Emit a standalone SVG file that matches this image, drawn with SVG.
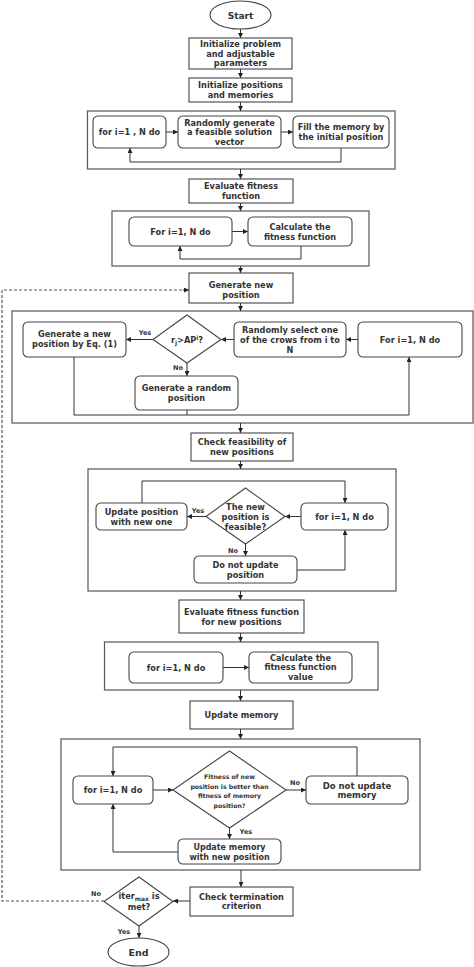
<svg xmlns="http://www.w3.org/2000/svg" width="474" height="967" viewBox="0 0 474 967">
<defs>
<marker id="ah" viewBox="0 0 10 10" refX="10" refY="5" markerWidth="5" markerHeight="5" orient="auto" markerUnits="userSpaceOnUse">
<path d="M0,0 L10,5 L0,10 z" fill="#222"/>
</marker>
<style>
.b{fill:#fff;stroke:#444;stroke-width:1.1}
.c{fill:none;stroke:#555;stroke-width:1.2}
.t{font-family:"DejaVu Sans",Verdana,sans-serif;font-weight:bold;font-size:8.2px;fill:#333;text-anchor:middle}
.s{font-family:"DejaVu Sans",Verdana,sans-serif;font-weight:bold;font-size:6.5px;fill:#333;text-anchor:middle}
.l{fill:none;stroke:#333;stroke-width:1}
.a{fill:none;stroke:#333;stroke-width:1;marker-end:url(#ah)}
.d{fill:none;stroke:#555;stroke-width:1.2;stroke-dasharray:3,2}
</style>
</defs>
<rect width="474" height="967" fill="#fff"/>

<g id="containers">
<rect id="c1" class="c" x="87.5" y="111" width="307.5" height="58"/>
<rect id="c2" class="c" x="112" y="211" width="257" height="55"/>
<rect id="c3" class="c" x="12" y="311" width="461" height="112"/>
<rect id="c4" class="c" x="88" y="469" width="308" height="122"/>
<rect id="c5" class="c" x="104.5" y="642" width="273.5" height="48"/>
<rect id="c6" class="c" x="61" y="739" width="359" height="131"/>
</g>

<g id="connectors">
<path class="a" d="M240.5,29 V38"/>
<path class="a" d="M240.5,69 V78"/>
<path class="a" d="M240.5,102 V111"/>
<path class="a" d="M166,132 H178"/>
<path class="a" d="M281,132 H293"/>
<path class="a" d="M341,148 V162 H130 V148"/>
<path class="a" d="M240.5,169 V179"/>
<path class="a" d="M240.5,203 V211"/>
<path class="a" d="M232,231.5 H248"/>
<path class="a" d="M301,246 V259 H180 V246"/>
<path class="a" d="M240.5,266 V273"/>
<path class="a" d="M240.5,303 V311"/>
<path class="a" d="M358,339.5 H346"/>
<path class="a" d="M234,339.5 H221"/>
<path class="a" d="M153,339.5 H126"/>
<path class="a" d="M187,363 V376"/>
<path class="a" d="M74,357 V415 H409 V357"/>
<path class="l" d="M187,410 V415"/>
<path class="a" d="M240.5,423 V433"/>
<path class="a" d="M240.5,461 V469"/>
<path class="a" d="M301,516.5 H285"/>
<path class="a" d="M206,516.5 H187"/>
<path class="a" d="M245.5,544 V556"/>
<path class="a" d="M142,503 V481 H345 V503"/>
<path class="a" d="M297,570 H345 V530"/>
<path class="a" d="M240.5,591 V600"/>
<path class="a" d="M240.5,633 V642"/>
<path class="a" d="M223,667.5 H249"/>
<path class="a" d="M240.5,690 V701"/>
<path class="a" d="M240.5,729 V739"/>
<path class="a" d="M153,790 H173"/>
<path class="a" d="M286,790 H306"/>
<path class="a" d="M229.5,828 V839"/>
<path class="a" d="M357,776 V747 H113 V776"/>
<path class="a" d="M178,852 H113 V804"/>
<path class="a" d="M241,870 V887"/>
<path class="a" d="M190,901 H173"/>
<path class="a" d="M139,926 V938"/>
<path class="d" d="M104,901 H2 V290 H184"/>
<path class="a" d="M183,290 H189"/>
<text class="s" x="145" y="335">Yes</text>
<text class="s" x="178" y="370">No</text>
<text class="s" x="198" y="513">Yes</text>
<text class="s" x="233" y="553">No</text>
<text class="s" x="295" y="785">No</text>
<text class="s" x="246" y="834">Yes</text>
<text class="s" x="96" y="896">No</text>
<text class="s" x="124" y="934">Yes</text>
</g>

<g id="start"><ellipse class="b" cx="240.5" cy="15" rx="30.5" ry="14"/><text class="t" style="font-size:9px" x="240.5" y="18.5">Start</text></g>
<g id="init1"><rect class="b" x="189" y="38" width="103" height="31"/><text class="t" x="240.5" y="47">Initialize problem</text><text class="t" x="240.5" y="56.5">and adjustable</text><text class="t" x="240.5" y="66">parameters</text></g>
<g id="init2"><rect class="b" x="189" y="78" width="103" height="24"/><text class="t" x="240.5" y="87.5">Initialize positions</text><text class="t" x="240.5" y="98">and memories</text></g>
<g id="for1"><rect class="b" x="93" y="116" width="73" height="32" rx="5"/><text class="t" x="129.5" y="135">for i=1 , N do</text></g>
<g id="randgen"><rect class="b" x="178" y="116" width="103" height="32" rx="5"/><text class="t" x="229.5" y="125.5">Randomly generate</text><text class="t" x="229.5" y="135">a feasible solution</text><text class="t" x="229.5" y="145">vector</text></g>
<g id="fill"><rect class="b" x="293" y="116" width="96" height="32" rx="5"/><text class="t" x="341" y="130">Fill the memory by</text><text class="t" x="341" y="139.5">the initial position</text></g>
<g id="eval1"><rect class="b" x="189" y="179" width="104" height="24"/><text class="t" x="241" y="189">Evaluate fitness</text><text class="t" x="241" y="199">function</text></g>
<g id="for2"><rect class="b" x="129" y="217" width="103" height="29" rx="5"/><text class="t" x="180.5" y="234.5">For i=1, N do</text></g>
<g id="calc1"><rect class="b" x="248" y="217" width="104" height="29" rx="5"/><text class="t" x="300" y="230">Calculate the</text><text class="t" x="300" y="239.5">fitness function</text></g>
<g id="gennew"><rect class="b" x="189" y="273" width="104" height="30"/><text class="t" x="241" y="287.5">Generate new</text><text class="t" x="241" y="297.5">position</text></g>
<g id="eq1"><rect class="b" x="23" y="322" width="103" height="35" rx="5"/><text class="t" x="74.5" y="337">Generate a new</text><text class="t" x="74.5" y="347">position by Eq. (1)</text></g>
<g id="dec1"><polygon class="b" points="187,315 221,339.5 187,363 153,339.5"/><text class="t" x="187" y="342.5">r<tspan dy="2" style="font-size:6px">j</tspan><tspan dy="-2">&gt;AP</tspan><tspan dy="-3" style="font-size:6px">i</tspan><tspan dy="3">?</tspan></text></g>
<g id="select"><rect class="b" x="234" y="322" width="112" height="35" rx="5"/><text class="t" x="290" y="333">Randomly select one</text><text class="t" x="290" y="343">of the crows from i to</text><text class="t" x="290" y="353">N</text></g>
<g id="for3"><rect class="b" x="358" y="322" width="104" height="35" rx="5"/><text class="t" x="410" y="342.5">For i=1, N do</text></g>
<g id="genrand"><rect class="b" x="135" y="376" width="103" height="34" rx="5"/><text class="t" x="186.5" y="391">Generate a random</text><text class="t" x="186.5" y="401">position</text></g>
<g id="check1"><rect class="b" x="191" y="433" width="102" height="28"/><text class="t" x="242" y="445">Check feasibility of</text><text class="t" x="242" y="455">new positions</text></g>
<g id="updpos"><rect class="b" x="96" y="503" width="91" height="27" rx="5"/><text class="t" x="141.5" y="515">Update position</text><text class="t" x="141.5" y="525">with new one</text></g>
<g id="dec2"><polygon class="b" points="245.5,488 285,516.5 245.5,544 206,516.5"/><text class="t" x="245.5" y="509.5">The new</text><text class="t" x="245.5" y="519.5">position is</text><text class="t" x="245.5" y="529.5">feasible?</text></g>
<g id="for4"><rect class="b" x="301" y="503" width="87" height="27" rx="5"/><text class="t" x="344.5" y="519.5">for i=1, N do</text></g>
<g id="noupd1"><rect class="b" x="194" y="556" width="103" height="27" rx="5"/><text class="t" x="245.5" y="568">Do not update</text><text class="t" x="245.5" y="578">position</text></g>
<g id="eval2"><rect class="b" x="179" y="600" width="125" height="33"/><text class="t" x="241.5" y="615">Evaluate fitness function</text><text class="t" x="241.5" y="625">for new positions</text></g>
<g id="for5"><rect class="b" x="129" y="652" width="94" height="31" rx="5"/><text class="t" x="176" y="670.5">for i=1, N do</text></g>
<g id="calc2"><rect class="b" x="249" y="652" width="103" height="31" rx="5"/><text class="t" x="300.5" y="660.5">Calculate the</text><text class="t" x="300.5" y="670">fitness function</text><text class="t" x="300.5" y="680">value</text></g>
<g id="updmem"><rect class="b" x="190" y="701" width="103" height="28"/><text class="t" x="241.5" y="718">Update memory</text></g>
<g id="for6"><rect class="b" x="73" y="776" width="80" height="28" rx="5"/><text class="t" x="113" y="793">for i=1, N do</text></g>
<g id="dec3"><polygon class="b" points="229.5,751 286,790 229.5,828 173,790"/><text class="s" style="font-size:6.2px" x="229.5" y="779">Fitness of new</text><text class="s" style="font-size:6.2px" x="229.5" y="788.5">position is better than</text><text class="s" style="font-size:6.2px" x="229.5" y="798">fitness of memory</text><text class="s" style="font-size:6.2px" x="229.5" y="807.5">position?</text></g>
<g id="noupd2"><rect class="b" x="306" y="776" width="102" height="28" rx="5"/><text class="t" style="font-size:8.5px" x="357" y="788.5">Do not update</text><text class="t" style="font-size:8.5px" x="357" y="798">memory</text></g>
<g id="updmem2"><rect class="b" x="178" y="839" width="103" height="25" rx="5"/><text class="t" style="font-size:8px" x="229.5" y="850">Update memory</text><text class="t" style="font-size:8px" x="229.5" y="859.5">with new position</text></g>
<g id="checkterm"><rect class="b" x="190" y="887" width="103" height="29"/><text class="t" x="241.5" y="899.5">Check termination</text><text class="t" x="241.5" y="909">criterion</text></g>
<g id="dec4"><polygon class="b" points="139,877 173,901.5 139,926 104,901.5"/><text class="t" x="139" y="899">iter<tspan dy="2" style="font-size:6px">max</tspan><tspan dy="-2"> is</tspan></text><text class="t" x="139" y="910">met?</text></g>
<g id="end"><ellipse class="b" cx="138.5" cy="952" rx="30.5" ry="14"/><text class="t" style="font-size:9.5px" x="138.5" y="955.5">End</text></g>
</svg>
